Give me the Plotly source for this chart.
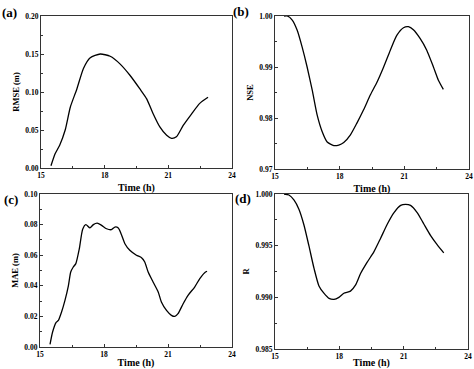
import plotly.graph_objects as go

# ---- data ----
t_rmse = [15.47, 15.67, 15.88, 16.14, 16.38, 16.69, 17.0, 17.32, 17.79, 18.26, 18.72, 19.19, 19.66, 19.98, 20.29, 20.6, 20.92, 21.15, 21.38, 21.7, 22.09, 22.48, 22.87]
rmse = [0.003, 0.019, 0.030, 0.050, 0.080, 0.104, 0.131, 0.145, 0.150, 0.147, 0.137, 0.122, 0.104, 0.091, 0.071, 0.054, 0.043, 0.039, 0.041, 0.056, 0.071, 0.085, 0.093]

t_nse = [15.42, 15.57, 15.8, 16.03, 16.26, 16.49, 16.73, 16.96, 17.19, 17.42, 17.73, 17.96, 18.19, 18.5, 18.8, 19.11, 19.42, 19.73, 20.04, 20.35, 20.65, 20.96, 21.19, 21.42, 21.73, 22.04, 22.35, 22.58, 22.81]
nse = [1.000, 1.000, 0.9992, 0.9972, 0.9939, 0.990, 0.9854, 0.9805, 0.9773, 0.9753, 0.9746, 0.9747, 0.9752, 0.9767, 0.979, 0.9816, 0.9845, 0.987, 0.990, 0.9933, 0.9962, 0.9977, 0.9979, 0.9973, 0.9956, 0.9933, 0.990, 0.9874, 0.9856]

t_mae = [15.47, 15.59, 15.75, 15.86, 16.01, 16.17, 16.33, 16.44, 16.56, 16.68, 16.84, 17.0, 17.15, 17.34, 17.5, 17.68, 17.89, 18.12, 18.35, 18.51, 18.67, 18.82, 18.98, 19.21, 19.52, 19.76, 19.91, 20.07, 20.3, 20.54, 20.69, 20.93, 21.16, 21.32, 21.47, 21.71, 21.94, 22.25, 22.49, 22.72, 22.83]
mae = [0.0017, 0.0098, 0.016, 0.0174, 0.0229, 0.0305, 0.040, 0.049, 0.0523, 0.0545, 0.064, 0.077, 0.080, 0.0778, 0.080, 0.081, 0.0795, 0.0773, 0.0767, 0.0784, 0.0778, 0.0734, 0.0675, 0.0632, 0.060, 0.0584, 0.0556, 0.049, 0.0425, 0.036, 0.0294, 0.0239, 0.0207, 0.020, 0.0218, 0.0283, 0.0338, 0.0392, 0.0447, 0.0486, 0.0495]

t_r = [15.42, 15.65, 15.89, 16.12, 16.35, 16.58, 16.82, 17.05, 17.28, 17.52, 17.75, 17.98, 18.21, 18.52, 18.76, 18.99, 19.3, 19.61, 19.92, 20.24, 20.55, 20.86, 21.09, 21.32, 21.63, 21.94, 22.25, 22.56, 22.87]
r = [1.000, 0.9999, 0.9994, 0.9985, 0.997, 0.995, 0.9928, 0.9911, 0.9904, 0.9899, 0.9898, 0.990, 0.9904, 0.9906, 0.9912, 0.9923, 0.9934, 0.9944, 0.9957, 0.9971, 0.9982, 0.9989, 0.999, 0.9989, 0.9982, 0.9971, 0.996, 0.9951, 0.9943]

x_ticks = [15, 18, 21, 24]
panel_labels = ["(a)", "(b)", "(c)", "(d)"]
y_titles = ["RMSE (m)", "NSE", "MAE (m)", "R"]
y_ranges = [[0, 0.20], [0.97, 1.00], [0, 0.10], [0.985, 1.000]]
y_ticks = [[0.00, 0.05, 0.10, 0.15, 0.20], [0.97, 0.98, 0.99, 1.00],
           [0.00, 0.02, 0.04, 0.06, 0.08, 0.10], [0.985, 0.990, 0.995, 1.000]]
y_fmt = [".2f", ".2f", ".2f", ".3f"]
y_minor = [0.025, 0.005, 0.01, 0.0025]

series = [(t_rmse, rmse), (t_nse, nse), (t_mae, mae), (t_r, r)]

W, H = 474, 369
# pixel boxes: (left, right, top, bottom)
boxes = [(41, 232, 16, 168), (275, 469, 16, 169), (40, 232, 194, 347), (275, 468, 194, 349)]
# panel label anchor (right x, center y) in pixels
label_pos = [(19, 13), (251, 11), (20, 200), (253, 198)]

FONT = "Liberation Serif"
fig = go.Figure()
for i, ((tx, ty), (l, rr, tp, bt)) in enumerate(zip(series, boxes)):
    n = "" if i == 0 else str(i + 1)
    fig.add_trace(go.Scatter(x=tx, y=ty, mode="lines", line=dict(color="black", width=1.3, shape="spline", smoothing=0.6),
                             xaxis="x" + n, yaxis="y" + n, showlegend=False, hoverinfo="skip"))
    xd = [l / W, rr / W]
    yd = [1 - bt / H, 1 - tp / H]
    common = dict(showline=True, linecolor="#333", linewidth=1.2, mirror=True, ticks="inside",
                  ticklen=3, tickwidth=1, tickcolor="#333", showgrid=False, zeroline=False,
                  automargin=False,
                  tickfont=dict(family=FONT, size=7.5, color="black", weight="bold"))
    fig.layout["xaxis" + n] = dict(domain=xd, anchor="y" + n, range=[15, 24], tickvals=x_ticks,
                                   title=dict(text="Time (h)", font=dict(family=FONT, size=10, color="black", weight="bold"), standoff=4),
                                   minor=dict(dtick=1.5, ticks="inside", ticklen=2, tickcolor="#333", tick0=15),
                                   **common)
    fig.layout["yaxis" + n] = dict(domain=yd, anchor="x" + n, range=y_ranges[i], tickvals=y_ticks[i],
                                   tickformat=y_fmt[i],
                                   title=dict(text=y_titles[i], font=dict(family=FONT, size=8.5, color="black", weight="bold"), standoff=4),
                                   minor=dict(dtick=y_minor[i], tick0=y_ranges[i][0], ticks="inside", ticklen=2, tickcolor="#333"),
                                   **common)
    lx, ly = label_pos[i]
    fig.add_annotation(text=panel_labels[i], xref="paper", yref="paper",
                       x=lx / W, y=1 - ly / H, xanchor="right", yanchor="middle",
                       showarrow=False, font=dict(family=FONT, size=13, color="black", weight="bold"))

fig.update_layout(width=W, height=H, margin=dict(l=0, r=0, t=0, b=0),
                  paper_bgcolor="white", plot_bgcolor="white")
fig.write_html("out.html", config={"displayModeBar": False},
               post_script="document.body.style.margin='0';document.body.style.overflow='hidden';")
